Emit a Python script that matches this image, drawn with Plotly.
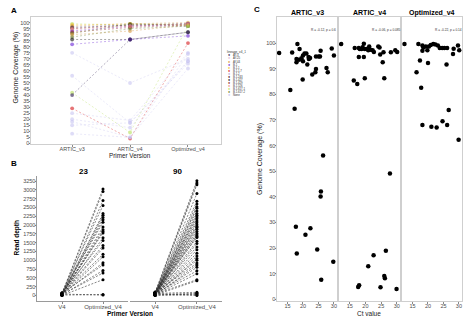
import plotly.graph_objects as go

W, H = 474, 325
def px(x): return x / W
def py(y): return 1 - y / H

FONT = "Liberation Sans, Arial, sans-serif"
TICKC = "#4d4d4d"
FRAME = "#cfcfcf"

# ---------------- Panel A data ----------------
primers_a = ["ARTIC_v3", "ARTIC_v4", "Optimized_v4"]
lineages = ["AY.3", "AY.25", "AY.44", "B.1", "B.1.1", "B.1.1.7", "B.1.2",
            "B.1.243", "B.1.427", "B.1.429", "B.1.526", "B.1.617.1", "B.1.617.2", "None"]
lineage_colors = ["#2b1a4f", "#e6b3cf", "#d4933a", "#6a24d6", "#f2c12e", "#d7191c", "#b9a6cf",
                  "#4a0f1e", "#111111", "#8b1c1c", "#f08c7c", "#b8e05c", "#6b7d2a", "#c9c6f2"]
sample_lineage = ["B.1.617.1", "B.1.1", "AY.44", "AY.3", "B.1.243", "AY.25", "B.1", "B.1.429",
                  "B.1.617.2", "AY.44", "B.1.617.2", "B.1.427", "B.1", "B.1.526",
                  "None", "None", "B.1.617.1", "AY.3", "B.1.1.7", "None", "None", "None", "None", "None"]
cov_v3 = [99, 98, 97, 96, 95, 94, 93, 92, 91, 90, 88, 86, 82, 95, 75, 56, 42, 40, 29, 25, 20, 18, 15, 8]
cov_v4 = [98, 99, 99, 98, 98, 97, 97, 96, 99, 93, 95, 86, 86, 97, 50, 17, 9, 86, 4, 19, 13, 5, 17, 5]
cov_opt = [99, 98, 100, 97, 99, 98, 99, 98, 98, 98, 97, 92, 89, 99, 70, 68, 97, 92, 83, 75, 68, 62, 66, 74]

# ---------------- Panel B data ----------------
primers_b = ["V4", "Optimized_V4"]
depth23_v4 = [60, 45, 30, 80, 20, 55, 10, 35, 70, 15, 40, 25, 50, 5, 65, 30, 20, 45, 10, 35, 55, 15, 25, 0, 10, 40]
depth23_opt = [3030, 2960, 2700, 2560, 2330, 2280, 2220, 2150, 2080, 1950, 1870, 1820, 1780,
               1640, 1560, 1420, 1350, 1170, 1100, 930, 870, 710, 640, 450, 30, 10]
depth90_v4 = [90, 70, 50, 30, 100, 60, 40, 20, 80, 10, 55, 35, 75, 25, 65, 45, 15, 85, 5, 50,
              30, 70, 20, 60, 40, 10, 80, 25, 55, 35, 15, 45, 65, 5, 30, 50, 20, 40, 10, 60, 30, 0, 15, 45]
depth90_opt = [3260, 3200, 3150, 2900, 2680, 2600, 2520, 2480, 2400, 2330, 2280, 2230, 2180, 2120,
               2070, 2010, 1960, 1930, 1880, 1820, 1760, 1720, 1680, 1650, 1540, 1480, 1380, 1300,
               1200, 1120, 1050, 1000, 920, 870, 800, 700, 620, 450, 420, 90, 60, 40, 20, 0]

# ---------------- Panel C data ----------------
ct_v3 = [12.3, 18.2, 16.5, 18.9, 17.9, 17.9, 18.7, 19.5, 20.0, 20.5, 21.1, 20.0, 21.4, 21.8, 22.3, 21.9,
         19.9, 23.0, 24.0, 24.2, 24.2, 25.1, 25.5, 25.7, 27.6, 28.0, 29.3, 30.0, 15.9, 17.3, 26.5,
         25.8, 25.7, 17.7, 22.4, 20.8, 24.6, 18.0, 29.8, 25.9]
gc_v3 = [96.1, 99.6, 96.3, 97.7, 93.8, 92.5, 93.5, 94.1, 95.1, 95.9, 95.9, 92.9, 91.6, 94.6, 94.2, 93.8,
         85.8, 87.7, 88.6, 89.9, 94.8, 94.8, 94.8, 97.0, 90.3, 88.6, 97.9, 95.1, 81.7, 74.4, 56.1,
         42.1, 40.2, 28.4, 27.8, 25.2, 19.5, 17.9, 14.7, 7.7]
ct_v4 = [12.3, 16.6, 17.9, 17.9, 18.2, 18.8, 19.1, 19.5, 19.8, 19.5, 20.4, 20.9, 21.2, 21.7, 22.3, 22.7,
         24.1, 24.5, 24.7, 25.75, 25.5, 28.1, 29.5, 30.1, 16.3, 17.4, 19.8, 26.0,
         27.8, 26.5, 22.6, 20.9, 26.0, 26.2, 18.0, 17.7, 24.8, 29.9]
gc_v4 = [99.6, 98.1, 98.1, 94.6, 97.7, 97.7, 98.4, 99.7, 97.7, 94.6, 97.7, 97.2, 98.7, 97.4, 97.2, 96.5,
         98.7, 98.3, 95.5, 96.4, 92.5, 96.4, 97.2, 96.5, 85.4, 84.0, 86.3, 86.3,
         49.1, 19.0, 17.2, 12.9, 9.1, 8.3, 5.5, 4.9, 4.8, 4.1]
ct_opt = [12.4, 16.3, 16.9, 17.4, 18.2, 18.2, 18.5, 19.3, 19.8, 20.3, 20.9, 21.7, 22.4, 23.2, 23.8, 24.6,
          25.3, 26.2, 20.0, 17.8, 18.2, 21.1, 22.8, 24.7, 26.2, 26.0, 26.7, 28.1, 28.3, 29.7, 30.1, 29.9]
gc_opt = [99.6, 88.6, 99.6, 93.2, 99.0, 97.0, 98.3, 98.7, 97.2, 98.7, 99.2, 99.6, 99.4, 99.0, 98.1, 98.1,
          98.1, 98.1, 92.2, 82.6, 68.0, 67.4, 67.1, 69.5, 68.0, 91.6, 73.9, 95.7, 97.8, 99.0, 97.2, 62.3]
facet_c = ["ARTIC_v3", "ARTIC_v4", "Optimized_v4"]
corr_text = ["R = -0.12, p = 0.6", "R = -0.06, p = 0.085", "R = -0.22, p = 0.14"]

fig = go.Figure()

# ---- Panel A traces ----
cmap = dict(zip(lineages, lineage_colors))
for lin, a, b, c in zip(sample_lineage, cov_v3, cov_v4, cov_opt):
    col = cmap[lin]
    fig.add_trace(go.Scatter(
        x=primers_a, y=[a, b, c], mode="lines+markers", xaxis="x", yaxis="y",
        line=dict(color=col, width=0.6, dash="2px,2px"),
        marker=dict(color=col, size=3.8, symbol="circle"),
        opacity=0.6, showlegend=False, hoverinfo="skip"))

# ---- Panel B traces ----
for xa, ya, v4s, opts in [("x2", "y2", depth23_v4, depth23_opt), ("x3", "y3", depth90_v4, depth90_opt)]:
    for a, b in zip(v4s, opts):
        fig.add_trace(go.Scatter(
            x=primers_b, y=[a, b], mode="lines+markers", xaxis=xa, yaxis=ya,
            line=dict(color="#333333", width=0.6, dash="2px,1.5px"),
            marker=dict(color="black", size=3),
            showlegend=False, hoverinfo="skip"))

# ---- Panel C traces ----
for i, (cx, cy) in enumerate([(ct_v3, gc_v3), (ct_v4, gc_v4), (ct_opt, gc_opt)]):
    fig.add_trace(go.Scatter(
        x=cx, y=cy, mode="markers", xaxis="x%d" % (4 + i), yaxis="y%d" % (4 + i),
        marker=dict(color="black", size=4.5), showlegend=False, hoverinfo="skip"))

tickfont = dict(family=FONT, size=5.5, color=TICKC)
box = dict(showline=True, mirror=True, linecolor=FRAME, linewidth=1, showgrid=False, zeroline=False,
           ticks="outside", ticklen=1.5, tickcolor="#888", tickfont=tickfont, ticklabelstandoff=-2)
baxis = dict(showline=True, linecolor="#9a9a9a", linewidth=1, showgrid=False, zeroline=False,
             ticks="outside", ticklen=1.5, tickcolor="#888", ticklabelstandoff=-2)

layout = dict(
    width=W, height=H, margin=dict(l=0, r=0, t=0, b=0),
    paper_bgcolor="white", plot_bgcolor="white", showlegend=False,
    font=dict(family=FONT, color="black"),
    # A
    xaxis=dict(box, domain=[px(31), px(221)], anchor="y", type="category",
               categoryorder="array", categoryarray=primers_a, range=[-0.71, 2.57]),
    yaxis=dict(box, domain=[py(145), py(17)], anchor="x", range=[-0.6, 104.7],
               tickvals=list(range(0, 101, 5))),
    # B
    xaxis2=dict(baxis, domain=[px(37), px(128)], anchor="y2", type="category", categoryorder="array",
                categoryarray=primers_b, range=[-0.61, 1.61],
                tickfont=dict(family=FONT, size=6, color=TICKC)),
    yaxis2=dict(baxis, domain=[py(303), py(177)], anchor="x2", range=[-161, 3400],
                tickvals=list(range(0, 3251, 250)), tickfont=tickfont),
    xaxis3=dict(baxis, domain=[px(130), px(222)], anchor="y3", type="category", categoryorder="array",
                categoryarray=primers_b, range=[-0.6, 1.6],
                tickfont=dict(family=FONT, size=6, color=TICKC)),
    yaxis3=dict(domain=[py(303), py(177)], anchor="x3", range=[-161, 3400], showline=False,
                showticklabels=False, showgrid=False, zeroline=False),
)
cdoms = [(277, 337), (339, 400), (402, 462)]
for i, (l, r) in enumerate(cdoms):
    n = 4 + i
    layout["xaxis%d" % n] = dict(box, domain=[px(l), px(r)], anchor="y%d" % n, range=[11.6, 31.0],
                                 tickvals=[15, 20, 25, 30])
    yd = dict(box, domain=[py(303), py(17)], anchor="x%d" % n, range=[-0.66, 110.2],
              tickvals=list(range(0, 101, 10)))
    if i > 0:
        yd["showticklabels"] = False
        yd["ticks"] = ""
    layout["yaxis%d" % n] = yd
fig.update_layout(**layout)

ann = []
def text(x, y, s, size=6.5, bold=False, angle=0, color="black", xanchor="center"):
    ann.append(dict(x=px(x), y=py(y), xref="paper", yref="paper", text=("<b>%s</b>" % s) if bold else s,
                    showarrow=False, textangle=angle, xanchor=xanchor, yanchor="middle",
                    font=dict(family=FONT, size=size, color=color)))

# panel letters
text(14, 11, "A", 8, True)
text(14, 165, "B", 8, True)
text(257, 10, "C", 8, True)
# A titles
text(16, 68, "Genome Coverage (%)", 7, angle=-90, color="#222")
text(130, 156, "Primer Version", 6.3, color="#222")
# A legend
text(225, 52, "lineage_v4_1", 3.2, xanchor="left", color="#333")
for i, (lin, col) in enumerate(zip(lineages, lineage_colors)):
    yy = 55.8 + i * 3.05
    text(228.5, yy, "●", 3.6, color=col)
    text(230.8, yy, lin, 2.8, xanchor="left", color="#333")
# B titles
text(83, 173, "23", 8, True)
text(177, 173, "90", 8, True)
text(17, 240, "Read depth", 6.5, True, angle=-90)
text(130, 315, "Primer Version", 6.5, True)
# C titles
for (l, r), name, ct in zip(cdoms, facet_c, corr_text):
    text((l + r) / 2, 13, name, 7, True)
    text(r - 14, 30, ct, 3.2, color="#333")
text(260, 160, "Genome Coverage (%)", 7, angle=-90, color="#222")
text(369, 315, "Ct value", 6.5, color="#222")

fig.update_layout(annotations=ann)
fig.write_html("out.html")
